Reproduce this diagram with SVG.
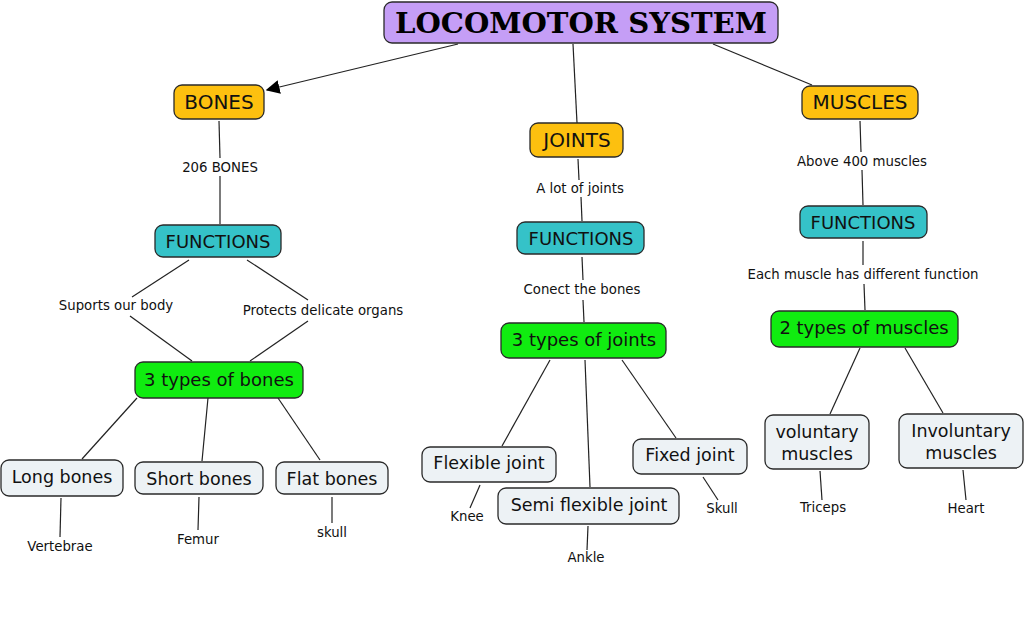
<svg xmlns="http://www.w3.org/2000/svg" width="1024" height="624" viewBox="0 0 1024 624">
<style>
.n{stroke:#2a2a2a;stroke-width:1.3}
.gold{fill:#fdc00f}
.teal{fill:#35c2c8}
.green{fill:#10ec10}
.leaf{fill:#edf2f5}
.t{font-family:"DejaVu Sans",Verdana,sans-serif;fill:#111;text-anchor:middle}
.big{font-size:20px}
.mid{font-size:18px}
.lf{font-size:17.5px}
.lb{font-size:13.3px}
.c line{stroke:#222;stroke-width:1.2}
</style>
<defs>
<marker id="arr" viewBox="0 0 10 10" refX="9" refY="5" markerWidth="14" markerHeight="14" markerUnits="userSpaceOnUse" orient="auto">
<path d="M0,0 L10,5 L0,10 z" fill="#000"/>
</marker>
</defs>
<rect width="1024" height="624" fill="#fff"/>
<g class="c" id="connectors">
<line x1="458" y1="44" x2="267" y2="90" marker-end="url(#arr)"/>
<line x1="573" y1="44" x2="577" y2="123"/>
<line x1="713" y1="44" x2="812" y2="85"/>
<line x1="219" y1="121" x2="220" y2="158"/>
<line x1="220" y1="176" x2="220" y2="224"/>
<line x1="189" y1="260" x2="132" y2="297"/>
<line x1="130" y1="316" x2="192" y2="361"/>
<line x1="247" y1="260" x2="308" y2="300"/>
<line x1="308" y1="321" x2="250" y2="361"/>
<line x1="137" y1="398" x2="82" y2="459"/>
<line x1="208" y1="398" x2="202" y2="461"/>
<line x1="278" y1="398" x2="320" y2="460"/>
<line x1="61" y1="498" x2="60" y2="537"/>
<line x1="199" y1="497" x2="198" y2="530"/>
<line x1="332" y1="497" x2="332" y2="523"/>
<line x1="578" y1="159" x2="579" y2="180"/>
<line x1="581" y1="197" x2="582" y2="221"/>
<line x1="582" y1="257" x2="583" y2="280"/>
<line x1="583" y1="300" x2="584" y2="322"/>
<line x1="550" y1="360" x2="502" y2="446"/>
<line x1="585" y1="360" x2="590" y2="487"/>
<line x1="622" y1="360" x2="676" y2="438"/>
<line x1="480" y1="485" x2="470" y2="508"/>
<line x1="588" y1="526" x2="587" y2="550"/>
<line x1="703" y1="477" x2="718" y2="500"/>
<line x1="860" y1="121" x2="861" y2="152"/>
<line x1="862" y1="170" x2="863" y2="205"/>
<line x1="863" y1="241" x2="863" y2="265"/>
<line x1="864" y1="284" x2="865" y2="310"/>
<line x1="860" y1="348" x2="830" y2="414"/>
<line x1="905" y1="348" x2="943" y2="413"/>
<line x1="820" y1="471" x2="822" y2="500"/>
<line x1="963" y1="470" x2="966" y2="500"/>
</g>
<g id="lbl206"><text class="t lb" x="220" y="172">206 BONES</text></g>
<g id="lblSup"><text class="t lb" x="116" y="310">Suports our body</text></g>
<g id="lblProt"><text class="t lb" x="323" y="315">Protects delicate organs</text></g>
<g id="lblVert"><text class="t lb" x="60" y="551">Vertebrae</text></g>
<g id="lblFemur"><text class="t lb" x="198" y="544">Femur</text></g>
<g id="lblSkull1"><text class="t lb" x="332" y="537">skull</text></g>
<g id="lblLot"><text class="t lb" x="580" y="193">A lot of joints</text></g>
<g id="lblCon"><text class="t lb" x="582" y="294">Conect the bones</text></g>
<g id="lblKnee"><text class="t lb" x="467" y="521">Knee</text></g>
<g id="lblAnkle"><text class="t lb" x="586" y="562">Ankle</text></g>
<g id="lblSkull2"><text class="t lb" x="722" y="513">Skull</text></g>
<g id="lblAbove"><text class="t lb" x="862" y="166">Above 400 muscles</text></g>
<g id="lblEach"><text class="t lb" x="863" y="279">Each muscle has different function</text></g>
<g id="lblTri"><text class="t lb" x="823" y="512">Triceps</text></g>
<g id="lblHeart"><text class="t lb" x="966" y="513">Heart</text></g>

<g id="title"><rect class="n" x="384" y="2" width="394" height="41" rx="8" fill="#c59ef6"/>
<text x="581" y="33" font-family="'DejaVu Serif',serif" font-weight="bold" font-size="28" text-anchor="middle" textLength="372" lengthAdjust="spacingAndGlyphs" fill="#000">LOCOMOTOR SYSTEM</text></g>

<g id="bones"><rect class="n gold" x="174" y="85" width="90" height="34" rx="8"/><text class="t big" x="219" y="109">BONES</text></g>
<g id="bfunc"><rect class="n teal" x="155" y="225" width="126" height="32" rx="8"/><text class="t mid" x="218" y="248">FUNCTIONS</text></g>
<g id="btypes"><rect class="n green" x="135" y="362" width="168" height="36" rx="8"/><text class="t mid" x="219" y="386">3 types of bones</text></g>
<g id="long"><rect class="n leaf" x="1" y="460" width="122" height="36" rx="8"/><text class="t lf" x="62" y="483">Long bones</text></g>
<g id="short"><rect class="n leaf" x="135" y="462" width="128" height="32" rx="8"/><text class="t lf" x="199" y="485">Short bones</text></g>
<g id="flat"><rect class="n leaf" x="276" y="462" width="112" height="32" rx="8"/><text class="t lf" x="332" y="485">Flat bones</text></g>

<g id="joints"><rect class="n gold" x="530" y="123" width="93" height="34" rx="8"/><text class="t big" x="577" y="147">JOINTS</text></g>
<g id="jfunc"><rect class="n teal" x="517" y="222" width="127" height="32" rx="8"/><text class="t mid" x="581" y="245">FUNCTIONS</text></g>
<g id="jtypes"><rect class="n green" x="501" y="323" width="165" height="35" rx="8"/><text class="t mid" x="584" y="346">3 types of joints</text></g>
<g id="flex"><rect class="n leaf" x="422" y="447" width="134" height="35" rx="8"/><text class="t lf" x="489" y="469">Flexible joint</text></g>
<g id="semi"><rect class="n leaf" x="498" y="488" width="181" height="36" rx="8"/><text class="t lf" x="589" y="511">Semi flexible joint</text></g>
<g id="fixed"><rect class="n leaf" x="633" y="439" width="114" height="35" rx="8"/><text class="t lf" x="690" y="461">Fixed joint</text></g>

<g id="muscles"><rect class="n gold" x="802" y="86" width="116" height="33" rx="8"/><text class="t big" x="860" y="109">MUSCLES</text></g>
<g id="mfunc"><rect class="n teal" x="800" y="206" width="127" height="32" rx="8"/><text class="t mid" x="863" y="229">FUNCTIONS</text></g>
<g id="mtypes"><rect class="n green" x="771" y="311" width="187" height="36" rx="8"/><text class="t mid" x="864" y="334">2 types of muscles</text></g>
<g id="vol"><rect class="n leaf" x="765" y="415" width="104" height="54" rx="8"/><text class="t lf" x="817" y="438">voluntary</text><text class="t lf" x="817" y="460">muscles</text></g>
<g id="invol"><rect class="n leaf" x="899" y="414" width="124" height="54" rx="8"/><text class="t lf" x="961" y="437">Involuntary</text><text class="t lf" x="961" y="459">muscles</text></g>
</svg>
